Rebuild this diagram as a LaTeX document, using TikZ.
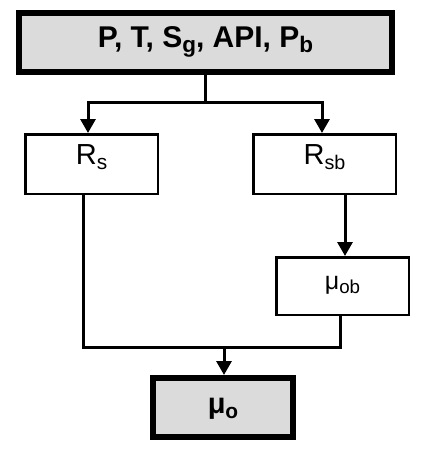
\documentclass[tikz,border=0pt]{standalone}
\usepackage{fontspec}
\setmainfont{Liberation Sans}
\usetikzlibrary{arrows.meta}
\newcommand{\lo}[2][0.75]{\raisebox{-0.18em}{\scalebox{#1}{#2}}}

\begin{document}
\begin{tikzpicture}[
        x=1pt,y=1pt,
        every node/.style={inner sep=0pt,font=\fontsize{29}{31}\selectfont},
        calc/.style={draw,line width=2.5pt,minimum height=59.5pt},
        main/.style={draw,line width=6pt,fill=black!14,minimum height=59pt},
        link/.style={line width=3pt},
        arr/.style={link,-{Triangle[length=14pt,width=15pt]}},
      ]
      \fill[white] (0,0) rectangle (422,-469);
      \node[main,minimum width=373pt,text height=14pt,text depth=5pt,
        font=\fontsize{30}{32}\selectfont\bfseries] (inp) at (205.5,-42.5)
        {P, T, S\lo{g}, API, P\lo{b}};
      \node[calc,minimum width=132.5pt,text height=10pt,text depth=10pt] (rs) at (91.5,-164) {R\lo[0.72]{s}};
      \node[calc,minimum width=142.5pt,text height=10pt,text depth=10pt] (rsb) at (324.5,-164) {R\lo[0.68]{sb}};
      \node[calc,minimum width=132.5pt,minimum height=57.5pt,text height=13pt,text depth=7pt,
        font=\fontsize{25}{27}\selectfont] (muob) at (342.5,-286) {μ\lo[0.75]{ob}};
      \node[main,minimum width=140pt,text height=16pt,text depth=5pt,
        font=\fontsize{29}{31}\selectfont\bfseries] (muo) at (223,-407.5) {μ\lo[0.72]{o}};
      \coordinate (split) at (205,-102);
      \coordinate (join) at (224,-347);

      \draw[link] (inp.south -| split) -- (split);
      \draw[arr] (split) -| ([xshift=-3.5pt]rs.north);
      \draw[arr] (split) -| ([xshift=-2.5pt]rsb.north);
      \draw[arr] ([xshift=20.5pt]rsb.south) -- ([xshift=20.5pt]rsb.south |- muob.north);
      \draw[link] ([xshift=-8.5pt]rs.south) |- (join);
      \draw[link] ([xshift=-2.5pt]muob.south) |- (join);
      \draw[arr] (join) -- (join |- muo.north);
\end{tikzpicture}
\end{document}
